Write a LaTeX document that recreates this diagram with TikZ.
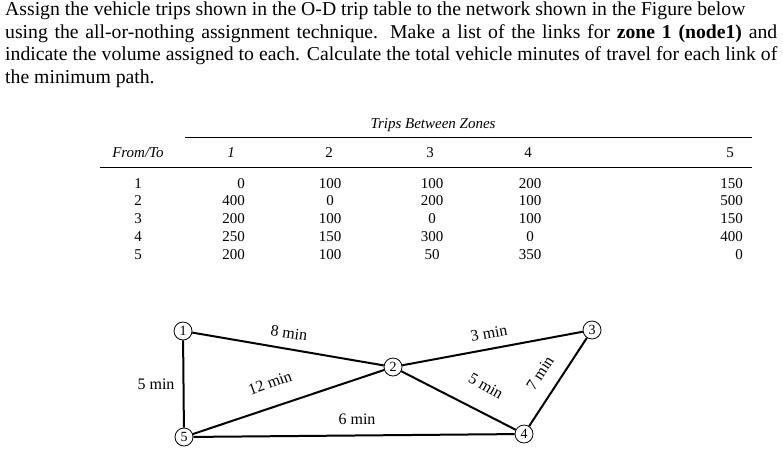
\documentclass[tikz,border=0pt]{standalone}
\usepackage{fontspec}
\setmainfont{Liberation Serif}
\usetikzlibrary{positioning}
\tikzset{
	zone/.style={draw, circle, thick, fill=white, inner sep=0pt, minimum size=18pt, font=\fontsize{14}{14}\selectfont},
	link/.style={line width=2pt},
	cost/.style={font=\fontsize{16}{16}\selectfont, inner sep=1pt},
	cell/.style={font=\fontsize{15}{15}\selectfont, inner sep=0pt}
}
\begin{document}
\begin{tikzpicture}[x=1pt, y=-1pt]
	\useasboundingbox (0,0) rectangle (783,474);

	% question text
	\node[anchor=north west, text width=772pt, align=justify, inner sep=0pt,
		font=\fontsize{19.7}{22.4}\selectfont] (question) at (5,2)
		{\hyphenpenalty=10000\relax Assign the vehicle trips shown in the O-D trip table to the network shown in the Figure below\newline using the all-or-nothing assignment technique. Make a list of the links for \textbf{zone 1 (node1)} and indicate the volume assigned to each. Calculate the total vehicle minutes of travel for each link of the minimum path.};

	% trip table
	\node[cell, font=\itshape\fontsize{15}{15}\selectfont] (title) at (433,125) {Trips Between Zones};
	\draw[thick] (185,137) coordinate (r1a) -- (752,137) coordinate (r1b);
	\node[cell, font=\itshape\fontsize{15}{15}\selectfont] (fromto) at (138,153) {From/To};
	\node[cell, font=\itshape\fontsize{15}{15}\selectfont] (h1) at (231,153) {1};
	\foreach \c/\x in {2/329, 3/430, 4/528, 5/730}
		\node[cell] (h\c) at (\x,153) {\c};
	\draw[thick] (100,167) coordinate (r2a) -- (752,167) coordinate (r2b);

	\foreach \r/\y/\a/\b/\cc/\d/\e in {1/184/0/100/100/200/150, 2/201/400/0/200/100/500, 3/219/200/100/0/100/150, 4/237/250/150/300/0/400, 5/255/200/100/50/350/0} {
		\node[cell] (row\r) at (138,\y) {\r};
		\node[cell, anchor=east] (v\r1) at (245,\y) {\a};
		\node[cell] (v\r2) at (330,\y) {\b};
		\node[cell] (v\r3) at (432,\y) {\cc};
		\node[cell] (v\r4) at (530,\y) {\d};
		\node[cell, anchor=east] (v\r5) at (743,\y) {\e};
	}

	% network
	\node[zone] (n1) at (183,331) {1};
	\node[zone] (n2) at (393,367) {2};
	\node[zone] (n3) at (592,330) {3};
	\node[zone] (n4) at (524,434) {4};
	\node[zone] (n5) at (184,437) {5};

	\draw[link] (n1) -- (n2);
	\draw[link] (n2) -- (n3);
	\draw[link] (n1) -- (n5);
	\draw[link] (n5) -- (n2);
	\draw[link] (n2) -- (n4);
	\draw[link] (n3) -- (n4);
	\draw[link] (n5) -- (n4);

	\node[cost, rotate=-8] (c12) at (289,333) {8 min};
	\node[cost, rotate=10] (c23) at (489,333) {3 min};
	\node[cost] (c15) at (156,384) {5 min};
	\node[cost, rotate=20] (c52) at (270,383) {12 min};
	\node[cost, rotate=-30] (c24) at (486,386) {5 min};
	\node[cost, rotate=57] (c34) at (540,373) {7 min};
	\node[cost] (c54) at (357,419) {6 min};
\end{tikzpicture}
\end{document}
